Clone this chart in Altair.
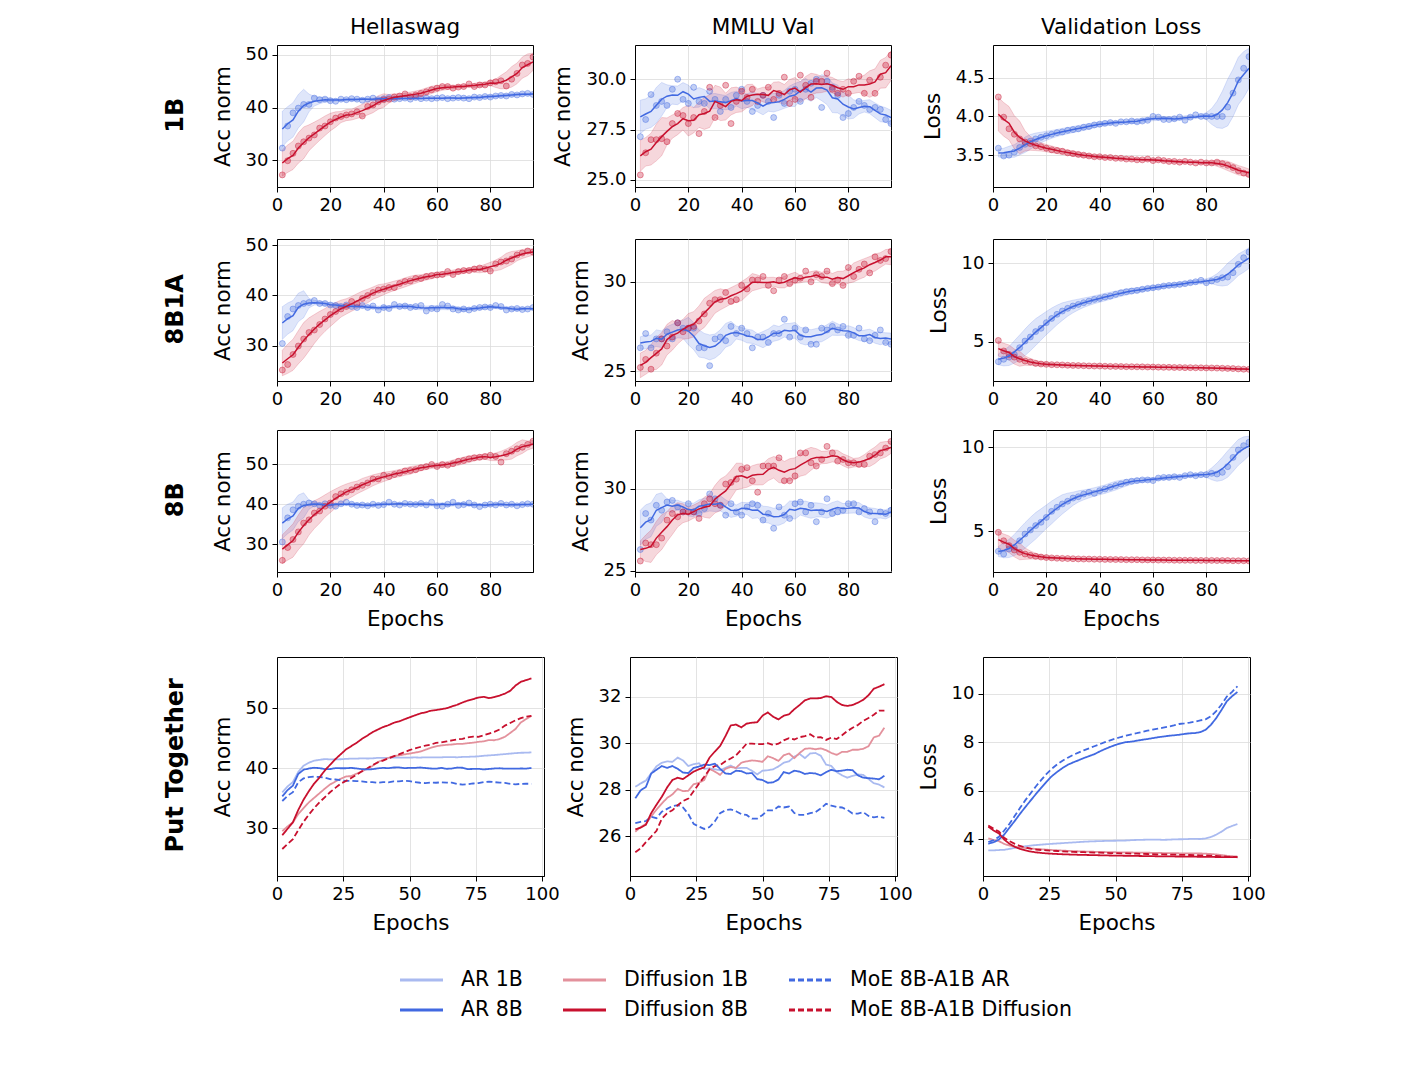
import altair as alt
import pandas as pd

epochs = list(range(2, 97, 2))

# ---- 1B ----
hs_1b_ar = [32.3, 36.5, 39.0, 39.9, 40.6, 40.6, 41.8, 41.5, 41.6, 41.3, 41.2, 41.6, 41.5, 41.7, 41.6, 41.4,
            41.6, 41.8, 41.5, 41.7, 41.9, 41.6, 41.7, 41.8, 41.6, 41.9, 41.7, 41.8, 41.7, 41.8, 41.9, 41.7,
            41.8, 41.9, 41.8, 41.7, 42.0, 41.9, 42.1, 42.0, 42.2, 42.3, 42.2, 42.5, 42.4, 42.6, 42.7, 42.5]
hs_1b_df = [27.2, 29.9, 31.3, 32.7, 33.5, 34.2, 34.8, 36.1, 36.5, 37.3, 38.0, 38.3, 38.6, 38.8, 39.2, 38.4,
            40.2, 40.5, 41.1, 41.5, 41.6, 42.0, 42.2, 42.6, 42.1, 42.4, 42.7, 43.0, 43.4, 43.7, 44.0, 44.0,
            43.7, 43.9, 44.0, 44.5, 44.0, 44.3, 44.3, 44.7, 44.9, 45.1, 44.1, 45.4, 46.5, 48.1, 48.4, 49.6]
mm_1b_ar = [27.15, 28.0, 29.24, 28.7, 28.9, 28.7, 29.5, 30.0, 29.0, 28.8, 29.6, 28.9, 28.8, 29.4, 29.0, 28.4,
            29.0, 28.6, 29.2, 29.5, 28.9, 28.4, 28.7, 29.2, 28.9, 28.1, 29.2, 28.8, 29.4, 29.5, 28.9, 29.5,
            29.8, 30.0, 28.6, 29.9, 29.6, 29.2, 28.1, 28.3, 28.6, 28.9, 28.7, 28.5, 28.6, 28.5, 28.0, 27.8]
mm_1b_df = [25.25, 26.35, 27.0, 27.0, 27.05, 26.9, 27.8, 28.3, 28.2, 27.8, 28.1, 27.3, 28.4, 29.6, 28.1, 28.7,
            29.7, 27.8, 28.9, 29.4, 29.1, 29.5, 28.9, 29.2, 29.6, 29.0, 29.3, 30.1, 28.8, 29.0, 30.2, 29.7,
            29.1, 29.9, 29.9, 30.3, 29.5, 29.3, 29.5, 29.3, 29.9, 30.15, 29.3, 29.95, 29.3, 30.1, 30.7, 31.2]
ls_1b_ar = [3.59, 3.49, 3.50, 3.54, 3.60, 3.64, 3.68, 3.71, 3.73, 3.75, 3.77, 3.79, 3.80, 3.82, 3.83, 3.84,
            3.86, 3.87, 3.89, 3.90, 3.91, 3.92, 3.91, 3.93, 3.93, 3.94, 3.93, 3.94, 3.95, 4.00, 3.99, 3.96,
            3.96, 3.97, 3.99, 3.95, 3.99, 4.02, 4.00, 4.00, 4.00, 4.00, 4.00, 4.12, 4.30, 4.47, 4.62, 4.77]
ls_1b_df = [4.25, 3.99, 3.84, 3.77, 3.71, 3.67, 3.65, 3.62, 3.61, 3.59, 3.57, 3.56, 3.55, 3.53, 3.52, 3.51,
            3.50, 3.49, 3.48, 3.48, 3.47, 3.47, 3.46, 3.46, 3.45, 3.45, 3.44, 3.44, 3.45, 3.43, 3.44, 3.43,
            3.42, 3.42, 3.41, 3.42, 3.41, 3.40, 3.41, 3.40, 3.40, 3.41, 3.39, 3.37, 3.34, 3.30, 3.27, 3.25]

# ---- 8B1A (MoE) ----
hs_moe_ar = [30.4, 35.8, 37.3, 38.0, 38.4, 38.6, 39.0, 38.4, 38.4, 38.1, 38.0, 37.8, 38.1, 37.8, 37.6, 38.0,
             37.6, 37.9, 37.1, 37.6, 37.4, 38.2, 37.8, 37.9, 37.6, 37.8, 38.0, 36.9, 37.4, 37.3, 38.2, 37.9,
             37.3, 37.1, 37.3, 37.1, 37.4, 37.6, 37.7, 37.6, 38.0, 37.8, 37.1, 37.3, 37.4, 37.2, 37.3, 37.6]
hs_moe_df = [25.1, 26.2, 28.2, 29.9, 31.3, 32.6, 33.1, 34.2, 35.3, 36.2, 36.8, 37.3, 37.8, 38.8, 38.4, 39.4,
             40.0, 40.6, 41.1, 41.3, 41.6, 41.6, 42.4, 42.8, 42.9, 43.4, 43.4, 43.8, 44.0, 44.1, 44.2, 44.8,
             44.2, 44.8, 45.0, 45.0, 45.3, 45.5, 45.3, 44.9, 46.3, 46.7, 46.9, 47.3, 48.1, 48.5, 48.9, 48.7]
mm_moe_ar = [26.3, 27.1, 26.3, 26.8, 26.8, 27.2, 26.8, 27.7, 27.4, 27.4, 27.4, 26.3, 26.3, 25.3, 26.8, 26.9,
             26.7, 27.5, 27.1, 27.4, 27.1, 26.3, 26.9, 26.9, 26.6, 27.1, 27.1, 27.9, 26.9, 27.4, 26.9, 27.3,
             26.5, 26.5, 27.4, 27.3, 27.5, 27.3, 27.5, 27.0, 27.0, 27.4, 26.8, 26.7, 27.0, 27.3, 26.6, 26.5]
mm_moe_df = [25.2, 25.65, 25.1, 26.0, 26.8, 26.4, 26.9, 27.7, 27.2, 27.4, 27.5, 27.8, 28.2, 28.8, 29.0, 29.0,
             29.4, 28.9, 29.0, 29.8, 29.6, 30.1, 30.1, 30.3, 29.8, 29.5, 30.1, 30.3, 29.9, 30.1, 30.2, 30.6,
             30.0, 30.4, 30.3, 30.6, 29.9, 30.1, 29.8, 30.8, 30.3, 30.7, 31.0, 30.5, 31.4, 31.2, 31.3, 31.7]
ls_moe_ar = [3.73, 3.88, 4.02, 4.19, 4.62, 5.04, 5.30, 5.64, 5.85, 6.21, 6.48, 6.74, 6.95, 7.12, 7.27, 7.37,
             7.48, 7.58, 7.69, 7.75, 7.84, 7.90, 8.01, 8.11, 8.18, 8.22, 8.26, 8.33, 8.39, 8.43, 8.47, 8.54,
             8.58, 8.60, 8.64, 8.69, 8.75, 8.81, 8.90, 8.75, 8.86, 8.96, 9.07, 9.11, 9.39, 9.92, 10.34, 10.7]
ls_moe_df = [5.08, 4.41, 4.19, 4.02, 3.88, 3.77, 3.71, 3.62, 3.58, 3.56, 3.54, 3.53, 3.52, 3.50, 3.49, 3.48,
             3.47, 3.46, 3.45, 3.45, 3.44, 3.43, 3.43, 3.42, 3.41, 3.41, 3.40, 3.40, 3.39, 3.39, 3.38, 3.37,
             3.37, 3.36, 3.36, 3.35, 3.35, 3.34, 3.34, 3.33, 3.33, 3.32, 3.31, 3.30, 3.29, 3.27, 3.25, 3.24]

# ---- 8B ----
hs_8b_ar = [30.6, 36.6, 38.6, 39.5, 40.0, 40.3, 40.1, 39.7, 40.1, 39.7, 39.5, 40.1, 40.5, 40.0, 39.7, 39.8,
            39.6, 40.0, 39.7, 39.9, 40.5, 40.0, 39.8, 40.2, 40.0, 39.9, 40.2, 39.8, 40.5, 39.6, 39.5, 40.0,
            40.5, 39.7, 39.9, 40.3, 39.8, 39.4, 39.8, 40.0, 39.8, 40.2, 39.8, 40.0, 39.6, 39.9, 40.1, 40.0]
hs_8b_df = [26.0, 29.2, 31.2, 33.1, 35.3, 36.1, 37.8, 38.3, 39.5, 40.3, 41.9, 42.6, 43.0, 43.6, 44.3, 44.7,
            45.3, 46.3, 46.3, 47.2, 46.9, 47.4, 47.8, 48.3, 48.4, 48.6, 49.1, 49.4, 49.9, 49.4, 49.9, 49.7,
            50.1, 50.7, 50.9, 51.3, 51.6, 51.7, 51.9, 52.2, 51.9, 50.5, 52.6, 53.2, 53.8, 54.2, 54.9, 55.7]
mm_8b_ar = [26.3, 28.5, 28.1, 29.0, 28.7, 29.2, 29.3, 28.9, 28.6, 29.1, 28.6, 28.5, 28.8, 29.7, 29.4, 29.0,
            28.4, 29.1, 28.6, 28.4, 28.9, 29.1, 29.0, 28.1, 28.5, 27.6, 28.9, 28.4, 28.2, 29.1, 29.2, 28.6,
            29.0, 28.0, 28.6, 29.4, 28.5, 28.6, 28.7, 29.1, 29.1, 28.6, 28.8, 28.6, 28.0, 28.6, 28.5, 28.7]
mm_8b_df = [25.6, 26.7, 26.6, 26.6, 27.0, 28.1, 28.5, 28.3, 28.6, 28.6, 28.6, 28.2, 29.1, 29.4, 29.1, 29.0,
            30.3, 30.4, 30.6, 31.2, 31.3, 30.5, 29.8, 31.4, 31.4, 31.4, 31.9, 30.5, 30.5, 30.8, 32.2, 32.2,
            31.6, 31.4, 31.8, 32.6, 32.2, 31.7, 31.8, 31.6, 31.6, 31.5, 31.5, 32.0, 32.1, 32.2, 32.5, 32.9]
ls_8b_ar = [3.81, 3.65, 3.95, 4.05, 4.44, 4.84, 5.08, 5.34, 5.54, 5.83, 6.19, 6.43, 6.63, 6.79, 6.98, 7.06,
            7.22, 7.32, 7.26, 7.42, 7.52, 7.62, 7.72, 7.82, 7.92, 7.98, 8.02, 8.06, 8.06, 8.02, 8.17, 8.21,
            8.21, 8.25, 8.21, 8.31, 8.37, 8.31, 8.37, 8.37, 8.45, 8.41, 8.51, 8.85, 9.40, 9.84, 10.10, 10.30]
ls_8b_df = [4.94, 4.44, 4.15, 3.89, 3.75, 3.65, 3.57, 3.51, 3.47, 3.44, 3.42, 3.40, 3.39, 3.38, 3.37, 3.36,
            3.35, 3.35, 3.34, 3.34, 3.33, 3.33, 3.32, 3.32, 3.31, 3.31, 3.31, 3.30, 3.30, 3.30, 3.29, 3.29,
            3.29, 3.28, 3.28, 3.28, 3.28, 3.27, 3.27, 3.27, 3.27, 3.26, 3.26, 3.26, 3.25, 3.25, 3.25, 3.24]

metrics = ["Hellaswag", "MMLU Val", "Validation Loss"]
models = ["1B", "8B1A", "8B"]
series_names = {
    ("1B", "AR"): "AR 1B", ("1B", "Diffusion"): "Diffusion 1B",
    ("8B", "AR"): "AR 8B", ("8B", "Diffusion"): "Diffusion 8B",
    ("8B1A", "AR"): "MoE 8B-A1B AR", ("8B1A", "Diffusion"): "MoE 8B-A1B Diffusion",
}
table = {
    ("Hellaswag", "1B"): (hs_1b_ar, hs_1b_df), ("MMLU Val", "1B"): (mm_1b_ar, mm_1b_df),
    ("Validation Loss", "1B"): (ls_1b_ar, ls_1b_df),
    ("Hellaswag", "8B1A"): (hs_moe_ar, hs_moe_df), ("MMLU Val", "8B1A"): (mm_moe_ar, mm_moe_df),
    ("Validation Loss", "8B1A"): (ls_moe_ar, ls_moe_df),
    ("Hellaswag", "8B"): (hs_8b_ar, hs_8b_df), ("MMLU Val", "8B"): (mm_8b_ar, mm_8b_df),
    ("Validation Loss", "8B"): (ls_8b_ar, ls_8b_df),
}
rows = []
for (metric, model), (ar, dif) in table.items():
    for method, vals in (("AR", ar), ("Diffusion", dif)):
        for e, v in zip(epochs, vals):
            rows.append({"metric": metric, "model": model, "method": method,
                         "series": series_names[(model, method)], "epoch": e, "value": v})
df = pd.DataFrame(rows)

FONT = "DejaVu Sans"
BLUE = "#4169e1"
RED = "#c8102e"
TITLE_SIZE = 21.5

top_y = {
    ("Hellaswag", "1B"): ([24.9, 51.9], [30, 40, 50], "d"),
    ("MMLU Val", "1B"): ([24.65, 31.7], [25.0, 27.5, 30.0], ".1f"),
    ("Validation Loss", "1B"): ([3.09, 4.92], [3.5, 4.0, 4.5], ".1f"),
    ("Hellaswag", "8B1A"): ([22.9, 51.3], [30, 40, 50], "d"),
    ("MMLU Val", "8B1A"): ([24.44, 32.4], [25, 30], "d"),
    ("Validation Loss", "8B1A"): ([2.5, 11.53], [5, 10], "d"),
    ("Hellaswag", "8B"): ([23.1, 58.5], [30, 40, 50], "d"),
    ("MMLU Val", "8B"): ([24.93, 33.6], [25, 30], "d"),
    ("Validation Loss", "8B"): ([2.58, 11.03], [5, 10], "d"),
}
bottom_y = {
    "Hellaswag": ([22.0, 58.5], [30, 40, 50]),
    "MMLU Val": ([24.3, 33.7], [26, 28, 30, 32]),
    "Validation Loss": ([2.47, 11.53], [4, 6, 8, 10]),
}
ytitles = {"Hellaswag": "Acc norm", "MMLU Val": "Acc norm", "Validation Loss": "Loss"}


def smooth(base):
    return (base
            .transform_window(m="mean(value)", frame=[-2, 2], groupby=["series"],
                              sort=[alt.SortField("epoch")])
            .transform_window(s="stdev(value)", frame=[-4, 4], groupby=["series"],
                              sort=[alt.SortField("epoch")])
            .transform_calculate(lo="datum.m - datum.s", hi="datum.m + datum.s"))


def top_panel(metric, model, xtitle, title):
    dom, ticks, fmt = top_y[(metric, model)]
    if xtitle:
        xax = alt.Axis(values=[0, 20, 40, 60, 80], title=xtitle)
    else:
        xax = alt.Axis(values=[0, 20, 40, 60, 80], title=None)
    x = alt.X("epoch:Q", scale=alt.Scale(domain=[0, 96], nice=False, zero=False), axis=xax)
    ysc = alt.Scale(domain=dom, nice=False, zero=False)
    yax = alt.Axis(values=ticks, format=fmt, title=ytitles[metric])
    base = smooth(alt.Chart(df).transform_filter(
        (alt.datum.metric == metric) & (alt.datum.model == model)))
    bands, pts, lines = [], [], []
    for method, col in (("AR", BLUE), ("Diffusion", RED)):
        b = base.transform_filter(alt.datum.method == method)
        bands.append(b.mark_area(color=col, fillOpacity=0.17, stroke=col, strokeOpacity=0.18,
                                 strokeWidth=1, clip=True).encode(
            x=x, y=alt.Y("lo:Q", scale=ysc, axis=yax), y2="hi:Q"))
        pts.append(b.mark_circle(size=36, color=col, fillOpacity=0.32, stroke=col,
                                 strokeOpacity=0.4, strokeWidth=1, clip=True).encode(
            x=x, y=alt.Y("value:Q", scale=ysc, axis=yax)))
        lines.append(b.mark_line(color=col, strokeWidth=1.5, clip=True).encode(
            x=x, y=alt.Y("m:Q", scale=ysc, axis=yax)))
    ch = alt.layer(*bands, *pts, *lines).properties(width=256, height=142)
    if title:
        ch = ch.properties(title=alt.TitleParams(title, fontSize=TITLE_SIZE, font=FONT,
                                                 fontWeight="normal", offset=7))
    return ch


# legend entries are filled column by column
ORDER = ["AR 1B", "AR 8B", "Diffusion 1B", "Diffusion 8B", "MoE 8B-A1B AR", "MoE 8B-A1B Diffusion"]
COLORS = ["#a9baf0", BLUE, "#e3919c", RED, BLUE, RED]
DASHES = [[1, 0], [1, 0], [1, 0], [1, 0], [6, 3], [6, 3]]


def make_legend():
    return alt.Legend(title=None, orient="none", legendX=121, legendY=920, columns=3,
                      symbolType="stroke", symbolSize=1850, symbolStrokeWidth=3,
                      labelFontSize=20.5, labelFont=FONT, labelColor="black", labelLimit=600,
                      columnPadding=38, rowPadding=0, clipHeight=30, labelOffset=16)


def bottom_panel(metric):
    dom, ticks = bottom_y[metric]
    base = smooth(alt.Chart(df).transform_filter(alt.datum.metric == metric))
    line = base.mark_line(strokeWidth=1.8, clip=True).encode(
        x=alt.X("epoch:Q", scale=alt.Scale(domain=[0, 100.75], nice=False, zero=False),
                axis=alt.Axis(values=[0, 25, 50, 75, 100], title="Epochs")),
        y=alt.Y("m:Q", scale=alt.Scale(domain=dom, nice=False, zero=False),
                axis=alt.Axis(values=ticks, format="d", title=ytitles[metric])),
        color=alt.Color("series:N", scale=alt.Scale(domain=ORDER, range=COLORS), legend=make_legend()),
        strokeDash=alt.StrokeDash("series:N", scale=alt.Scale(domain=ORDER, range=DASHES),
                                  legend=make_legend()),
    )
    return line.properties(width=267, height=219)


def row_title(text, dx):
    # dx moves the rotated label along its reading direction (upwards on screen)
    return alt.TitleParams(text, orient="left", fontSize=24, fontWeight="bold", font=FONT,
                           anchor="middle", offset=24, dx=dx, color="black")


row_dx = [0, 13, 30]
top_rows = []
for i, model in enumerate(models):
    panels = []
    for metric in metrics:
        panels.append(top_panel(metric, model, "Epochs" if i == 2 else None,
                                metric if i == 0 else None))
    top_rows.append(alt.hconcat(*panels, spacing=102, bounds="flush",
                                title=row_title(model, row_dx[i])))

top = alt.vconcat(*top_rows, spacing=20)
bottom = alt.hconcat(*[bottom_panel(m) for m in metrics], spacing=86, bounds="flush",
                     title=row_title("Put Together", 30))

chart = (alt.vconcat(top, bottom, spacing=26)
         .properties(padding={"left": 155, "top": 8, "right": 5, "bottom": 5})
         .configure_axis(labelFont=FONT, labelFontSize=18, titleFont=FONT, titleFontSize=TITLE_SIZE,
                         titleFontWeight="normal", labelColor="black", titleColor="black",
                         tickColor="black", domainColor="black", gridColor="#dcdcdc",
                         gridWidth=0.8, tickSize=5, labelPadding=4,
                         labelFlush=False, labelOverlap=False)
         .configure_axisY(titlePadding=11)
         .configure_axisX(titlePadding=9)
         .configure_view(stroke="black", strokeWidth=1)
         .configure_title(font=FONT, color="black"))

chart.save("out.html", embed_options={"renderer": "svg", "actions": False})
